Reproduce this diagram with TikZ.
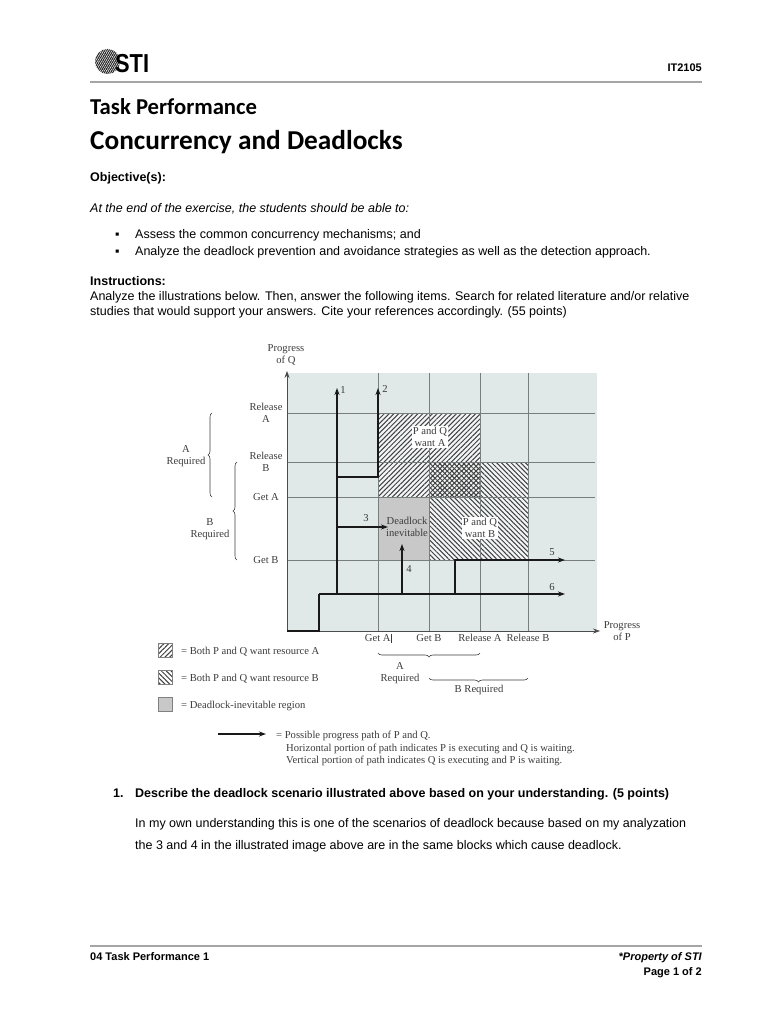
\documentclass[tikz,border=0pt]{standalone}
\usepackage{fontspec}
\setmainfont{Liberation Sans}
\newfontfamily\headfont{Carlito}
\newfontfamily\figfont{Liberation Serif}
\usetikzlibrary{positioning, calc, arrows.meta, patterns.meta, decorations.pathreplacing}
\definecolor{plotcolor}{RGB}{224,232,232}
\definecolor{gridcolor}{RGB}{120,125,125}
\definecolor{deadcolor}{RGB}{200,200,200}
\definecolor{figtext}{RGB}{60,60,60}
\definecolor{rulecolor}{RGB}{165,165,165}
\tikzset{
  bodytext/.style={anchor=base west, inner sep=0pt, font=\fontsize{12.5pt}{15pt}\selectfont},
  boldtext/.style={bodytext, font=\fontsize{12.5pt}{15pt}\selectfont\bfseries},
  figlabel/.style={inner sep=0pt, align=center, text=figtext,
                   font=\figfont\fontsize{10.6pt}{12.6pt}\selectfont},
  keytext/.style={figlabel, anchor=base west},
  whitelabel/.style={figlabel, fill=white, inner sep=1pt},
  gridline/.style={gridcolor, line width=0.6pt},
  hatchA/.style={pattern={Lines[angle=45,distance=3.4pt,line width=1pt]}, pattern color=black!75},
  hatchB/.style={pattern={Lines[angle=-45,distance=3.4pt,line width=1pt]}, pattern color=black!75},
  thickpath/.style={line width=1.9pt, black!90},
  progress/.style={thickpath, -{Stealth[length=7pt,width=5pt]}},
  axisline/.style={black!70, line width=0.7pt, -{Stealth[length=7pt,width=5pt]}},
  bracket/.style={decorate, figtext, line width=0.6pt,
                  decoration={brace, amplitude=4pt}},
  swatch/.style={draw=gray, minimum width=14pt, minimum height=14pt, inner sep=0pt},
  smallbold/.style={inner sep=0pt, font=\fontsize{11pt}{12pt}\selectfont\bfseries},
}

\begin{document}
\begin{tikzpicture}[x=1pt, y=-1pt]
\useasboundingbox (0,0) rectangle (768,1024);
\fill[white] (0,0) rectangle (768,1024);

%% ── page header ───────────────────────────────────────────────────
\node[circle, minimum size=25pt, inner sep=0pt, pattern={Lines[angle=60,distance=1.8pt,line width=1.1pt]}, pattern color=black!85] (globe) at (107.5,61.5) {};
\node[anchor=base west, inner sep=0pt, xscale=0.84, font=\fontsize{26pt}{26pt}\selectfont\bfseries] (stilogo) at (115,72.5) {STI};
\node[smallbold, anchor=base east] (course) at (702,72) {IT2105};
\draw[rulecolor, line width=1.3pt] (90,82) -- (702,82);
\node[anchor=base west, inner sep=0pt, font=\headfont\fontsize{22.7pt}{24pt}\selectfont\bfseries] (kicker) at (90,115) {Task Performance};
\node[anchor=base west, inner sep=0pt, font=\headfont\fontsize{27.3pt}{28pt}\selectfont\bfseries] (title) at (90,150) {Concurrency and Deadlocks};

%% ── objectives and instructions ───────────────────────────────────
\node[boldtext] (objhead) at (90,182) {Objective(s):};
\node[bodytext, font=\fontsize{12.5pt}{15pt}\selectfont\itshape] (objlead) at (90,213) {At the end of the exercise, the students should be able to:};
\node[bodytext] (bulleta) at (115,239) {▪};
\node[bodytext] (obja) at (135,239) {Assess the common concurrency mechanisms; and};
\node[bodytext] (bulletb) at (115,255) {▪};
\node[bodytext] (objb) at (135,255) {Analyze the deadlock prevention and avoidance strategies as well as the detection approach.};
\node[boldtext] (insthead) at (90,285) {Instructions:};
\node[bodytext] (insta) at (90,300) {Analyze the illustrations below. Then, answer the following items. Search for related literature and/or relative};
\node[bodytext] (instb) at (90,315) {studies that would support your answers. Cite your references accordingly. (55 points)};

%% ── plot field and grid positions ─────────────────────────────────
\fill[plotcolor] (287,373) rectangle (597,631);
\coordinate (getAp) at (378,631);
\coordinate (getBp) at (429,631);
\coordinate (relAp) at (480,631);
\coordinate (relBp) at (528,631);
\coordinate (relAq) at (287,413);
\coordinate (relBq) at (287,462);
\coordinate (getAq) at (287,497);
\coordinate (getBq) at (287,560);

%% ── shaded regions ────────────────────────────────────────────────
\fill[deadcolor] (getAp |- getAq) rectangle (getBp |- getBq);
\fill[white!60!plotcolor] (getAp |- relAq) rectangle (relAp |- getAq);
\fill[white!60!plotcolor] (getBp |- relBq) rectangle (relBp |- getBq);
\fill[hatchA] (getAp |- relAq) rectangle (relAp |- getAq);
\fill[hatchB] (getBp |- relBq) rectangle (relBp |- getBq);

\foreach \gridp in {getAp, getBp, relAp, relBp}
  \draw[gridline] (\gridp) -- (\gridp |- 0,373);
\foreach \gridq in {relAq, relBq, getAq, getBq}
  \draw[gridline] (\gridq) -- (595,0 |- \gridq);

\node[whitelabel] (wantA) at (430,437) {P and Q\\want A};
\node[whitelabel] (wantB) at (480,528) {P and Q\\want B};
\node[figlabel] (deadlock) at (407,527) {Deadlock\\inevitable};

%% ── axes ──────────────────────────────────────────────────────────
\coordinate (origin) at (287,631);
\coordinate (qtip) at (287,371);
\coordinate (ptip) at (600,631);
\draw[axisline] (origin) -- (qtip);
\draw[axisline] (origin) -- (ptip);

%% ── progress paths ────────────────────────────────────────────────
\coordinate (rise) at (319,631);
\coordinate (base) at (319,594);
\coordinate (endsix) at (565,594);
\coordinate (forkone) at (337,594);
\coordinate (endone) at (337,388);
\coordinate (forktwo) at (337,477);
\coordinate (endtwo) at (378,388);
\coordinate (forkthree) at (337,527);
\coordinate (endthree) at (388,527);
\coordinate (forkfour) at (402,594);
\coordinate (endfour) at (402,544);
\coordinate (forkfive) at (455,594);
\coordinate (endfive) at (565,560);
\draw[thickpath] (origin) -- (rise) -- (base);
\draw[progress] (base) -- (endsix);
\draw[progress] (forkone) -- (endone);
\draw[progress] (forktwo) -| (endtwo);
\draw[progress, line width=1.3pt] (forkthree) -- (endthree);
\draw[progress] (forkfour) -- (endfour);
\draw[progress] (forkfive) |- (endfive);

\foreach \n/\px/\py in {1/343/390, 2/385/389, 3/366/518, 4/409/569, 5/552/552, 6/552/587}
  \node[figlabel] (num\n) at (\px,\py) {\n};

%% ── axis labels ───────────────────────────────────────────────────
\node[figlabel] (qname) at (286,355) {Progress\\of Q};
\node[figlabel] (pname) at (622,631) {Progress\\of P};
\node[figlabel] at (266,413) (lrelAq) {Release\\A};
\node[figlabel] at (266,462) (lrelBq) {Release\\B};
\node[figlabel] at (266,497.5) (lgetAq) {Get A};
\node[figlabel] at (266,560) (lgetBq) {Get B};
\node[figlabel] at (378,638) (lgetAp) {Get A\rule[-1pt]{0.5pt}{9pt}};
\node[figlabel] at (429,638) (lgetBp) {Get B};
\node[figlabel] at (480,638) (lrelAp) {Release A};
\node[figlabel] at (528,638) (lrelBp) {Release B};

%% ── required spans ────────────────────────────────────────────────
\coordinate (spanAtop) at (212,413);
\coordinate (spanAbot) at (212,497);
\coordinate (spanBtop) at (237,462);
\coordinate (spanBbot) at (237,560);
\coordinate (spanAleft) at (378,653);
\coordinate (spanAright) at (480,653);
\coordinate (spanBleft) at (429,678);
\coordinate (spanBright) at (528,678);
\draw[bracket] (spanAbot) -- (spanAtop);
\draw[bracket] (spanBbot) -- (spanBtop);
\draw[bracket] (spanAright) -- (spanAleft);
\draw[bracket] (spanBright) -- (spanBleft);
\node[figlabel] (reqAq) at (186,456) {A\\Required};
\node[figlabel] (reqBq) at (210,529) {B\\Required};
\node[figlabel] (reqAp) at (400,673) {A\\Required};
\node[figlabel] (reqBp) at (479,690) {B Required};

%% ── key ───────────────────────────────────────────────────────────
\node[swatch, hatchA] (keyA) at (165.5,650) {};
\node[swatch, hatchB] (keyB) at (165.5,677) {};
\node[swatch, fill=deadcolor] (keyC) at (165.5,704.5) {};
\node[keytext] (txtA) at (181,654) {= Both P and Q want resource A};
\node[keytext] (txtB) at (181,681) {= Both P and Q want resource B};
\node[keytext] (txtC) at (181,708) {= Deadlock-inevitable region};
\coordinate (keystart) at (218,734);
\coordinate (keyend) at (266,734);
\draw[progress] (keystart) -- (keyend);
\node[keytext] (txtD) at (276,738) {= Possible progress path of P and Q.};
\node[keytext] (txtE) at (286,751) {Horizontal portion of path indicates P is executing and Q is waiting.};
\node[keytext] (txtF) at (286,763) {Vertical portion of path indicates Q is executing and P is waiting.};

%% ── question and answer ───────────────────────────────────────────
\node[boldtext] (qnum) at (113,797) {1.};
\node[boldtext] (qtext) at (135,797) {Describe the deadlock scenario illustrated above based on your understanding. (5 points)};
\node[bodytext] (ansa) at (135,827) {In my own understanding this is one of the scenarios of deadlock because based on my analyzation};
\node[bodytext] (ansb) at (135,849) {the 3 and 4 in the illustrated image above are in the same blocks which cause deadlock.};

%% ── page footer ───────────────────────────────────────────────────
\draw[rulecolor, line width=1.3pt] (90,946) -- (702,946);
\node[smallbold, anchor=base west] (footleft) at (90,960) {04 Task Performance 1};
\node[smallbold, anchor=base east, font=\fontsize{11pt}{12pt}\selectfont\bfseries\itshape] (footprop) at (702,960) {*Property of STI};
\node[smallbold, anchor=base east] (footpage) at (702,975) {Page 1 of 2};

\end{tikzpicture}
\end{document}
